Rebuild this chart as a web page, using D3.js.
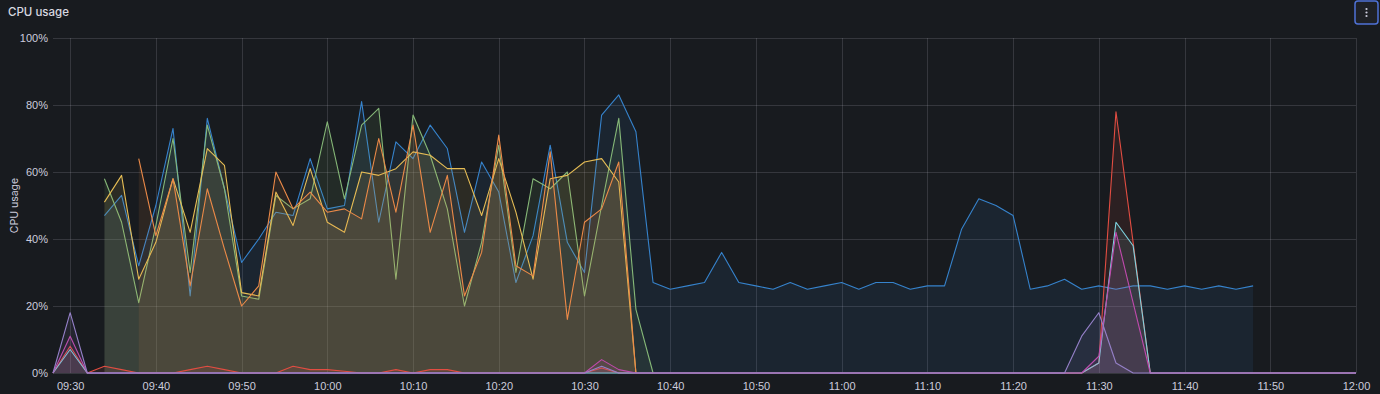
<!DOCTYPE html>
<html>
<head>
<meta charset="utf-8">
<script src="https://cdn.jsdelivr.net/npm/d3@7"></script>
<style>
  html, body { margin: 0; padding: 0; background: #181b1f; }
  svg { display: block; font-family: Inter, "Open Sans", sans-serif; }
  .tick text { fill: #ccccdc; font-size: 11px; }
</style>
</head>
<body>
<svg id="chart"></svg>
<script>
//Globals
var width = 1380;
var height = 394;

// sample grid: every 2 minutes starting 09:28, up to 12:00
var startTime = new Date(2024, 0, 1, 9, 28);
var stepMinutes = 2;
var yTicks = [0, 20, 40, 60, 80, 100];

// series values (percent), null = no sample
var blueVals = [null, null, null, 47, 53, 32, 50, 73, 23, 76, 55, 33, 40, 48, 47, 64, 49, 50, 81, 45,
  69, 64, 74, 67, 42, 63, 54, 27, 41, 68, 39, 30, 77, 83, 72, 27, 25, 26, 27, 36,
  27, 26, 25, 27, 25, 26, 27, 25, 27, 27, 25, 26, 26, 43, 52, 50, 47, 25, 26, 28,
  25, 26, 25, 26, 26, 25, 26, 25, 26, 25, 26];
var greenVals = [null, null, null, 58, 45, 21, 44, 70, 30, 74, 55, 23, 22, 53, 49, 52, 75, 52, 74, 79,
  28, 77, 65, 49, 20, 39, 68, 30, 58, 55, 60, 23, 50, 76, 19, 0];
var yellowVals = [null, null, null, 51, 59, 28, 39, 58, 42, 67, 62, 24, 23, 54, 44, 61, 45, 42, 60, 59,
  61, 66, 65, 61, 61, 47, 64, 48, 28, 58, 59, 63, 64, 57, 0];
var orangeVals = [null, null, null, null, null, 64, 41, 58, 26, 55, 37, 20, 26, 60, 49, 54, 48, 49, 46, 70,
  48, 74, 42, 59, 23, 36, 71, 32, 29, 66, 16, 45, 49, 63, 0];
var redVals = [0, 8, 0, 2, 1, 0, 0, 0, 1, 2, 1, 0, 0, 0, 2, 1, 1, 0.5, 0, 0,
  1, 0, 1, 1, 0, 0, 0, 0, 0, 0, 0, 0, 1.5, 0, 0, 0, 0, 0, 0, 0,
  0, 0, 0, 0, 0, 0, 0, 0, 0, 0, 0, 0, 0, 0, 0, 0, 0, 0, 0, 0,
  0, 3, 78, 39, 0, 0, 0, 0, 0, 0, 0, 0, 0, 0, 0, 0, 0];
var cyanVals = [0, 7, 0, 0, 0, 0, 0, 0, 0, 0, 0, 0, 0, 0, 0, 0, 0, 0, 0, 0,
  0, 0, 0, 0, 0, 0, 0, 0, 0, 0, 0, 0, 0, 0, 0, 0, 0, 0, 0, 0,
  0, 0, 0, 0, 0, 0, 0, 0, 0, 0, 0, 0, 0, 0, 0, 0, 0, 0, 0, 0,
  0, 3, 45, 38, 0, 0, 0, 0, 0, 0, 0, 0, 0, 0, 0, 0, 0];
var magentaVals = [0, 11, 0, 0, 0, 0, 0, 0, 0, 0, 0, 0, 0, 0, 0, 0, 0, 0, 0, 0,
  0, 0, 0, 0, 0, 0, 0, 0, 0, 0, 0, 0, 4, 1, 0, 0, 0, 0, 0, 0,
  0, 0, 0, 0, 0, 0, 0, 0, 0, 0, 0, 0, 0, 0, 0, 0, 0, 0, 0, 0,
  0, 5, 42, 21, 0, 0, 0, 0, 0, 0, 0, 0, 0, 0, 0, 0, 0];
var violetVals = [0, 18, 0, 0, 0, 0, 0, 0, 0, 0, 0, 0, 0, 0, 0, 0, 0, 0, 0, 0,
  0, 0, 0, 0, 0, 0, 0, 0, 0, 0, 0, 0, 2, 0, 0, 0, 0, 0, 0, 0,
  0, 0, 0, 0, 0, 0, 0, 0, 0, 0, 0, 0, 0, 0, 0, 0, 0, 0, 0, 0,
  11, 18, 3, 0, 0, 0, 0, 0, 0, 0, 0, 0, 0, 0, 0, 0, 0];

var seriesList = [
  {name: "blue", color: "#3683cc", values: blueVals},
  {name: "green", color: "#86b878", values: greenVals},
  {name: "yellow", color: "#e6bd55", values: yellowVals},
  {name: "orange", color: "#ec8a48", values: orangeVals},
  {name: "red", color: "#e24d42", values: redVals},
  {name: "cyan", color: "#7dd3df", values: cyanVals},
  {name: "magenta", color: "#c04aad", values: magentaVals},
  {name: "violet", color: "#9580c8", values: violetVals}
];

var plotLeft = 53, plotRight = 1356, plotTop = 38, plotBottom = 373;
var fillOpacity = 0.1;

var svg = d3.select("#chart")
    .attr("width", width)
    .attr("height", height);

svg.append("rect")
    .attr("width", width)
    .attr("height", height)
    .attr("fill", "#181b1f");

var x = d3.scaleTime()
    .domain([startTime, new Date(2024, 0, 1, 12, 0)])
    .range([plotLeft, plotRight]);

var y = d3.scaleLinear()
    .domain([0, 100])
    .range([plotBottom, plotTop]);

function timeAt(i) {
    return d3.timeMinute.offset(startTime, i * stepMinutes);
}

// grid
var xTickVals = d3.timeMinute.every(10).range(new Date(2024, 0, 1, 9, 30), new Date(2024, 0, 1, 12, 0, 1));

svg.append("g")
    .attr("class", "grid")
    .selectAll("line.h")
    .data(yTicks)
    .enter()
    .append("line")
    .attr("x1", plotLeft)
    .attr("x2", plotRight)
    .attr("y1", function (d) { return y(d) + 0.5; })
    .attr("y2", function (d) { return y(d) + 0.5; })
    .attr("stroke", "rgba(204,204,220,0.16)");

svg.select(".grid")
    .selectAll("line.v")
    .data(xTickVals)
    .enter()
    .append("line")
    .attr("x1", function (d) { return Math.round(x(d)) + 0.5; })
    .attr("x2", function (d) { return Math.round(x(d)) + 0.5; })
    .attr("y1", plotTop)
    .attr("y2", plotBottom)
    .attr("stroke", "rgba(204,204,220,0.16)");

// axes
var xAxis = d3.axisBottom(x)
    .tickValues(xTickVals)
    .tickFormat(d3.timeFormat("%H:%M"))
    .tickSize(0)
    .tickPadding(9);

svg.append("g")
    .attr("transform", "translate(0," + plotBottom + ")")
    .call(xAxis)
    .call(function (g) { g.select(".domain").remove(); });

var yAxis = d3.axisLeft(y)
    .tickValues(yTicks)
    .tickFormat(function (d) { return d + "%"; })
    .tickSize(0)
    .tickPadding(5);

svg.append("g")
    .attr("transform", "translate(" + plotLeft + ",0)")
    .call(yAxis)
    .call(function (g) { g.select(".domain").remove(); });

svg.append("text")
    .text("CPU usage")
    .attr("transform", "translate(18," + ((plotTop + plotBottom) / 2) + ") rotate(-90)")
    .attr("text-anchor", "middle")
    .style("font-size", "10.5px")
    .style("fill", "#ccccdc");

// series
var area = d3.area()
    .defined(function (d) { return d != null; })
    .x(function (d, i) { return x(timeAt(i)); })
    .y0(y(0))
    .y1(function (d) { return y(d); });

var line = d3.line()
    .defined(function (d) { return d != null; })
    .x(function (d, i) { return x(timeAt(i)); })
    .y(function (d) { return y(d); });

var seriesGroups = svg.append("g")
    .selectAll("g.series")
    .data(seriesList)
    .enter()
    .append("g")
    .attr("class", "series");

seriesGroups.append("path")
    .attr("d", function (s) { return area(s.values); })
    .attr("fill", function (s) { return s.color; })
    .attr("fill-opacity", fillOpacity);

seriesGroups.append("path")
    .attr("d", function (s) { return line(s.values); })
    .attr("fill", "none")
    .attr("stroke", function (s) { return s.color; })
    .attr("stroke-width", 1.1)
    .attr("stroke-linejoin", "round");

// title
svg.append("text")
    .text("CPU usage")
    .attr("x", 8)
    .attr("y", 16)
    .style("font-size", "11.5px")
    .style("font-weight", "500")
    .style("fill", "#d8d9e0");

// menu button
var menu = svg.append("g").attr("transform", "translate(1355,1)");
menu.append("rect")
    .attr("width", 23)
    .attr("height", 23)
    .attr("rx", 3)
    .attr("fill", "#1f2126")
    .attr("stroke", "#4f72d6")
    .attr("stroke-width", 1.5);
menu.selectAll("circle")
    .data([8, 11.5, 15])
    .enter()
    .append("circle")
    .attr("cx", 11.5)
    .attr("cy", function (d) { return d; })
    .attr("r", 1.1)
    .attr("fill", "#ccccdc");
</script>
</body>
</html>
